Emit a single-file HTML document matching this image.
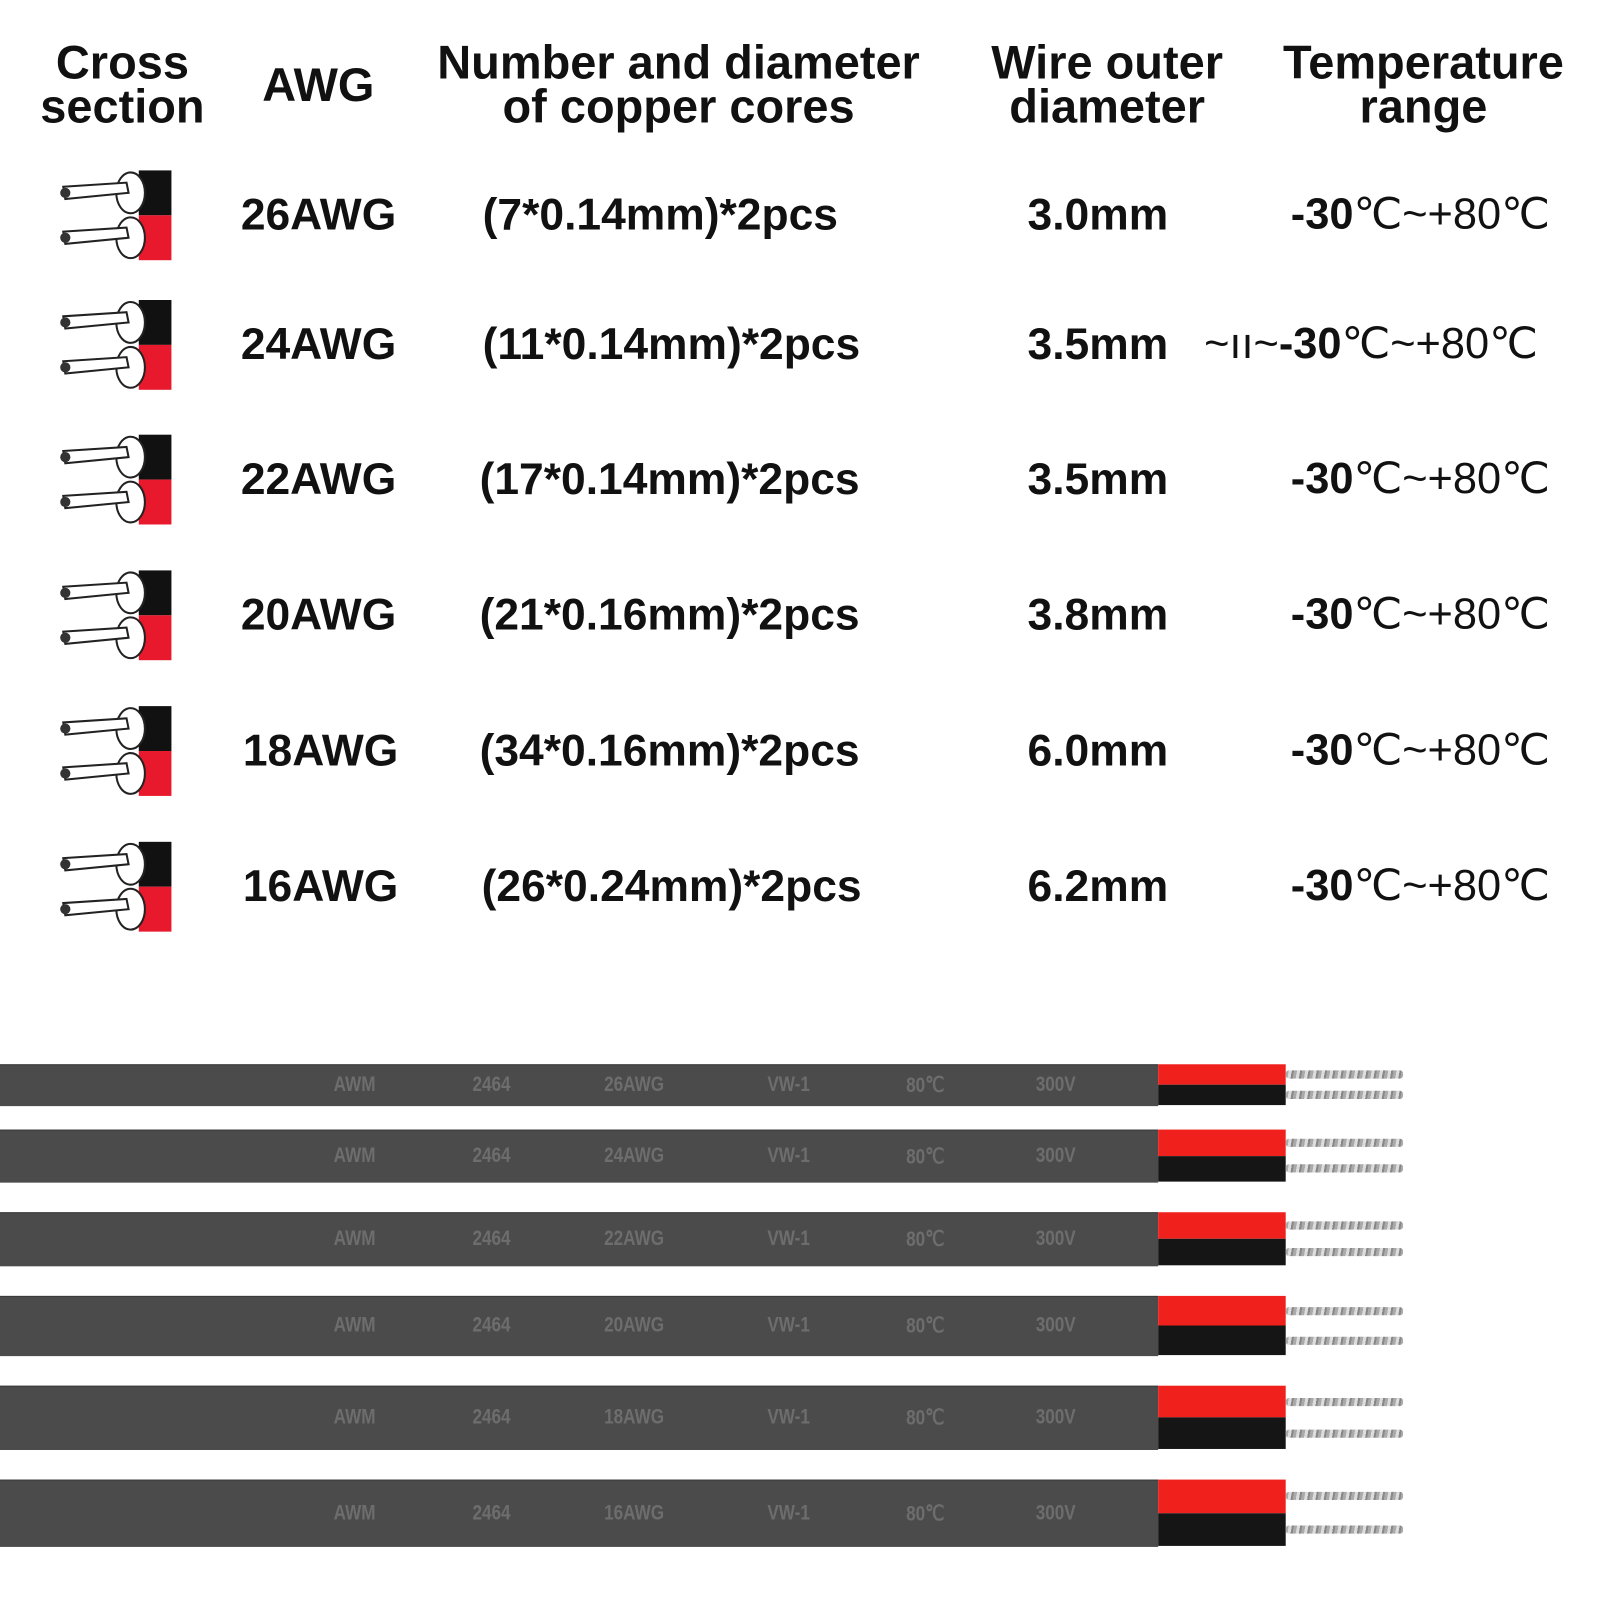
<!DOCTYPE html>
<html><head><meta charset="utf-8"><style>
html,body{margin:0;padding:0;background:#fff;width:1600px;height:1600px;overflow:hidden}
#w{position:absolute;left:0;top:0;width:1568px;height:1568px;transform:scale(1.0204);transform-origin:0 0;font-family:"Liberation Sans",sans-serif;color:#111}
.h{position:absolute;font-weight:bold;font-size:46px;line-height:43px;text-align:center;white-space:nowrap}
.t{position:absolute;font-weight:bold;font-size:43.5px;white-space:nowrap;line-height:40px}
.tr{position:absolute;font-size:42.5px;white-space:nowrap;line-height:40px;left:1265px}
.tr b{font-weight:bold}
.ic{position:absolute;left:58px}
.cab{position:absolute;left:0;width:1135px;background:#4b4b4b;border-top:1px solid #3a3a3a}
.lab{position:absolute;color:#6d6d6d;font-size:21px;font-weight:bold;transform:scaleX(0.8);transform-origin:0 50%}
.end{position:absolute;left:1135px;width:125px}
.wire{position:absolute;left:1260px;width:115px;height:8px;background:repeating-linear-gradient(100deg,#aaa 0 3px,#ddd 3px 6px,#888 6px 8px);border-radius:3px}
</style></head><body><div id="w">
<div class="h" style="left:20px;top:40px;width:200px">Cross<br>section</div>
<div class="h" style="left:232px;top:62px;width:160px">AWG</div>
<div class="h" style="left:405px;top:40px;width:520px">Number and diameter<br>of copper cores</div>
<div class="h" style="left:955px;top:40px;width:260px">Wire outer<br>diameter</div>
<div class="h" style="left:1245px;top:40px;width:300px">Temperature<br>range</div>

<svg width="0" height="0" style="position:absolute"><defs>
<g id="ico">
<rect x="78" y="2" width="32" height="44" fill="#111"/>
<rect x="78" y="46" width="32" height="44" fill="#e8192c"/>
<g stroke="#222" stroke-width="2" fill="#fff">
<ellipse cx="70" cy="24" rx="14" ry="20"/>
<ellipse cx="70" cy="68" rx="14" ry="20"/>
<path d="M4 18 L66 14 L68 24 L6 30 Z"/>
<path d="M4 62 L66 58 L68 68 L6 74 Z"/>
</g>
<circle cx="6" cy="24" r="5" fill="#333"/><circle cx="6" cy="68" r="5" fill="#333"/>
</g></defs></svg>

<svg class="ic" style="top:165px" width="112" height="92"><use href="#ico"/></svg>
<svg class="ic" style="top:292px" width="112" height="92"><use href="#ico"/></svg>
<svg class="ic" style="top:424px" width="112" height="92"><use href="#ico"/></svg>
<svg class="ic" style="top:557px" width="112" height="92"><use href="#ico"/></svg>
<svg class="ic" style="top:690px" width="112" height="92"><use href="#ico"/></svg>
<svg class="ic" style="top:823px" width="112" height="92"><use href="#ico"/></svg>

<div class="t" style="left:236px;top:191px">26AWG</div><div class="t" style="left:473px;top:191px">(7*0.14mm)*2pcs</div><div class="t" style="left:1007px;top:191px">3.0mm</div><div class="tr" style="top:191px"><b>-30</b>℃~+80℃</div>
<div class="t" style="left:236px;top:318px">24AWG</div><div class="t" style="left:473px;top:318px">(11*0.14mm)*2pcs</div><div class="t" style="left:1007px;top:318px">3.5mm</div><div class="tr" style="top:318px;left:1180px">~ıı~<b>-30</b>℃~+80℃</div>
<div class="t" style="left:236px;top:450px">22AWG</div><div class="t" style="left:470px;top:450px">(17*0.14mm)*2pcs</div><div class="t" style="left:1007px;top:450px">3.5mm</div><div class="tr" style="top:450px"><b>-30</b>℃~+80℃</div>
<div class="t" style="left:236px;top:583px">20AWG</div><div class="t" style="left:470px;top:583px">(21*0.16mm)*2pcs</div><div class="t" style="left:1007px;top:583px">3.8mm</div><div class="tr" style="top:583px"><b>-30</b>℃~+80℃</div>
<div class="t" style="left:238px;top:716px">18AWG</div><div class="t" style="left:470px;top:716px">(34*0.16mm)*2pcs</div><div class="t" style="left:1007px;top:716px">6.0mm</div><div class="tr" style="top:716px"><b>-30</b>℃~+80℃</div>
<div class="t" style="left:238px;top:849px">16AWG</div><div class="t" style="left:472px;top:849px">(26*0.24mm)*2pcs</div><div class="t" style="left:1007px;top:849px">6.2mm</div><div class="tr" style="top:849px"><b>-30</b>℃~+80℃</div>

<div id="cables"></div>
<script>
var rows=[[1043,40,"26AWG"],[1107,51,"24AWG"],[1188,52,"22AWG"],[1270,58,"20AWG"],[1358,62,"18AWG"],[1450,65,"16AWG"]];
var h="";
rows.forEach(function(r){
 var y=r[0],hh=r[1],c=y+hh/2;
 h+='<div class="cab" style="top:'+y+'px;height:'+hh+'px"></div>';
 h+='<div class="end" style="top:'+y+'px;height:'+(hh/2)+'px;background:#f0201c"></div>';
 h+='<div class="end" style="top:'+(y+hh/2)+'px;height:'+(hh/2)+'px;background:#151515"></div>';
 h+='<div class="wire" style="top:'+(y+hh*0.25-4)+'px"></div>';
 h+='<div class="wire" style="top:'+(y+hh*0.75-4)+'px"></div>';
 var labs=[[327,"AWM"],[463,"2464"],[592,r[2]],[752,"VW-1"],[888,"80℃"],[1015,"300V"]];
 labs.forEach(function(l){h+='<div class="lab" style="left:'+l[0]+'px;top:'+(c-12)+'px">'+l[1]+'</div>';});
});
document.getElementById("cables").innerHTML=h;
</script>
</div></body></html>
